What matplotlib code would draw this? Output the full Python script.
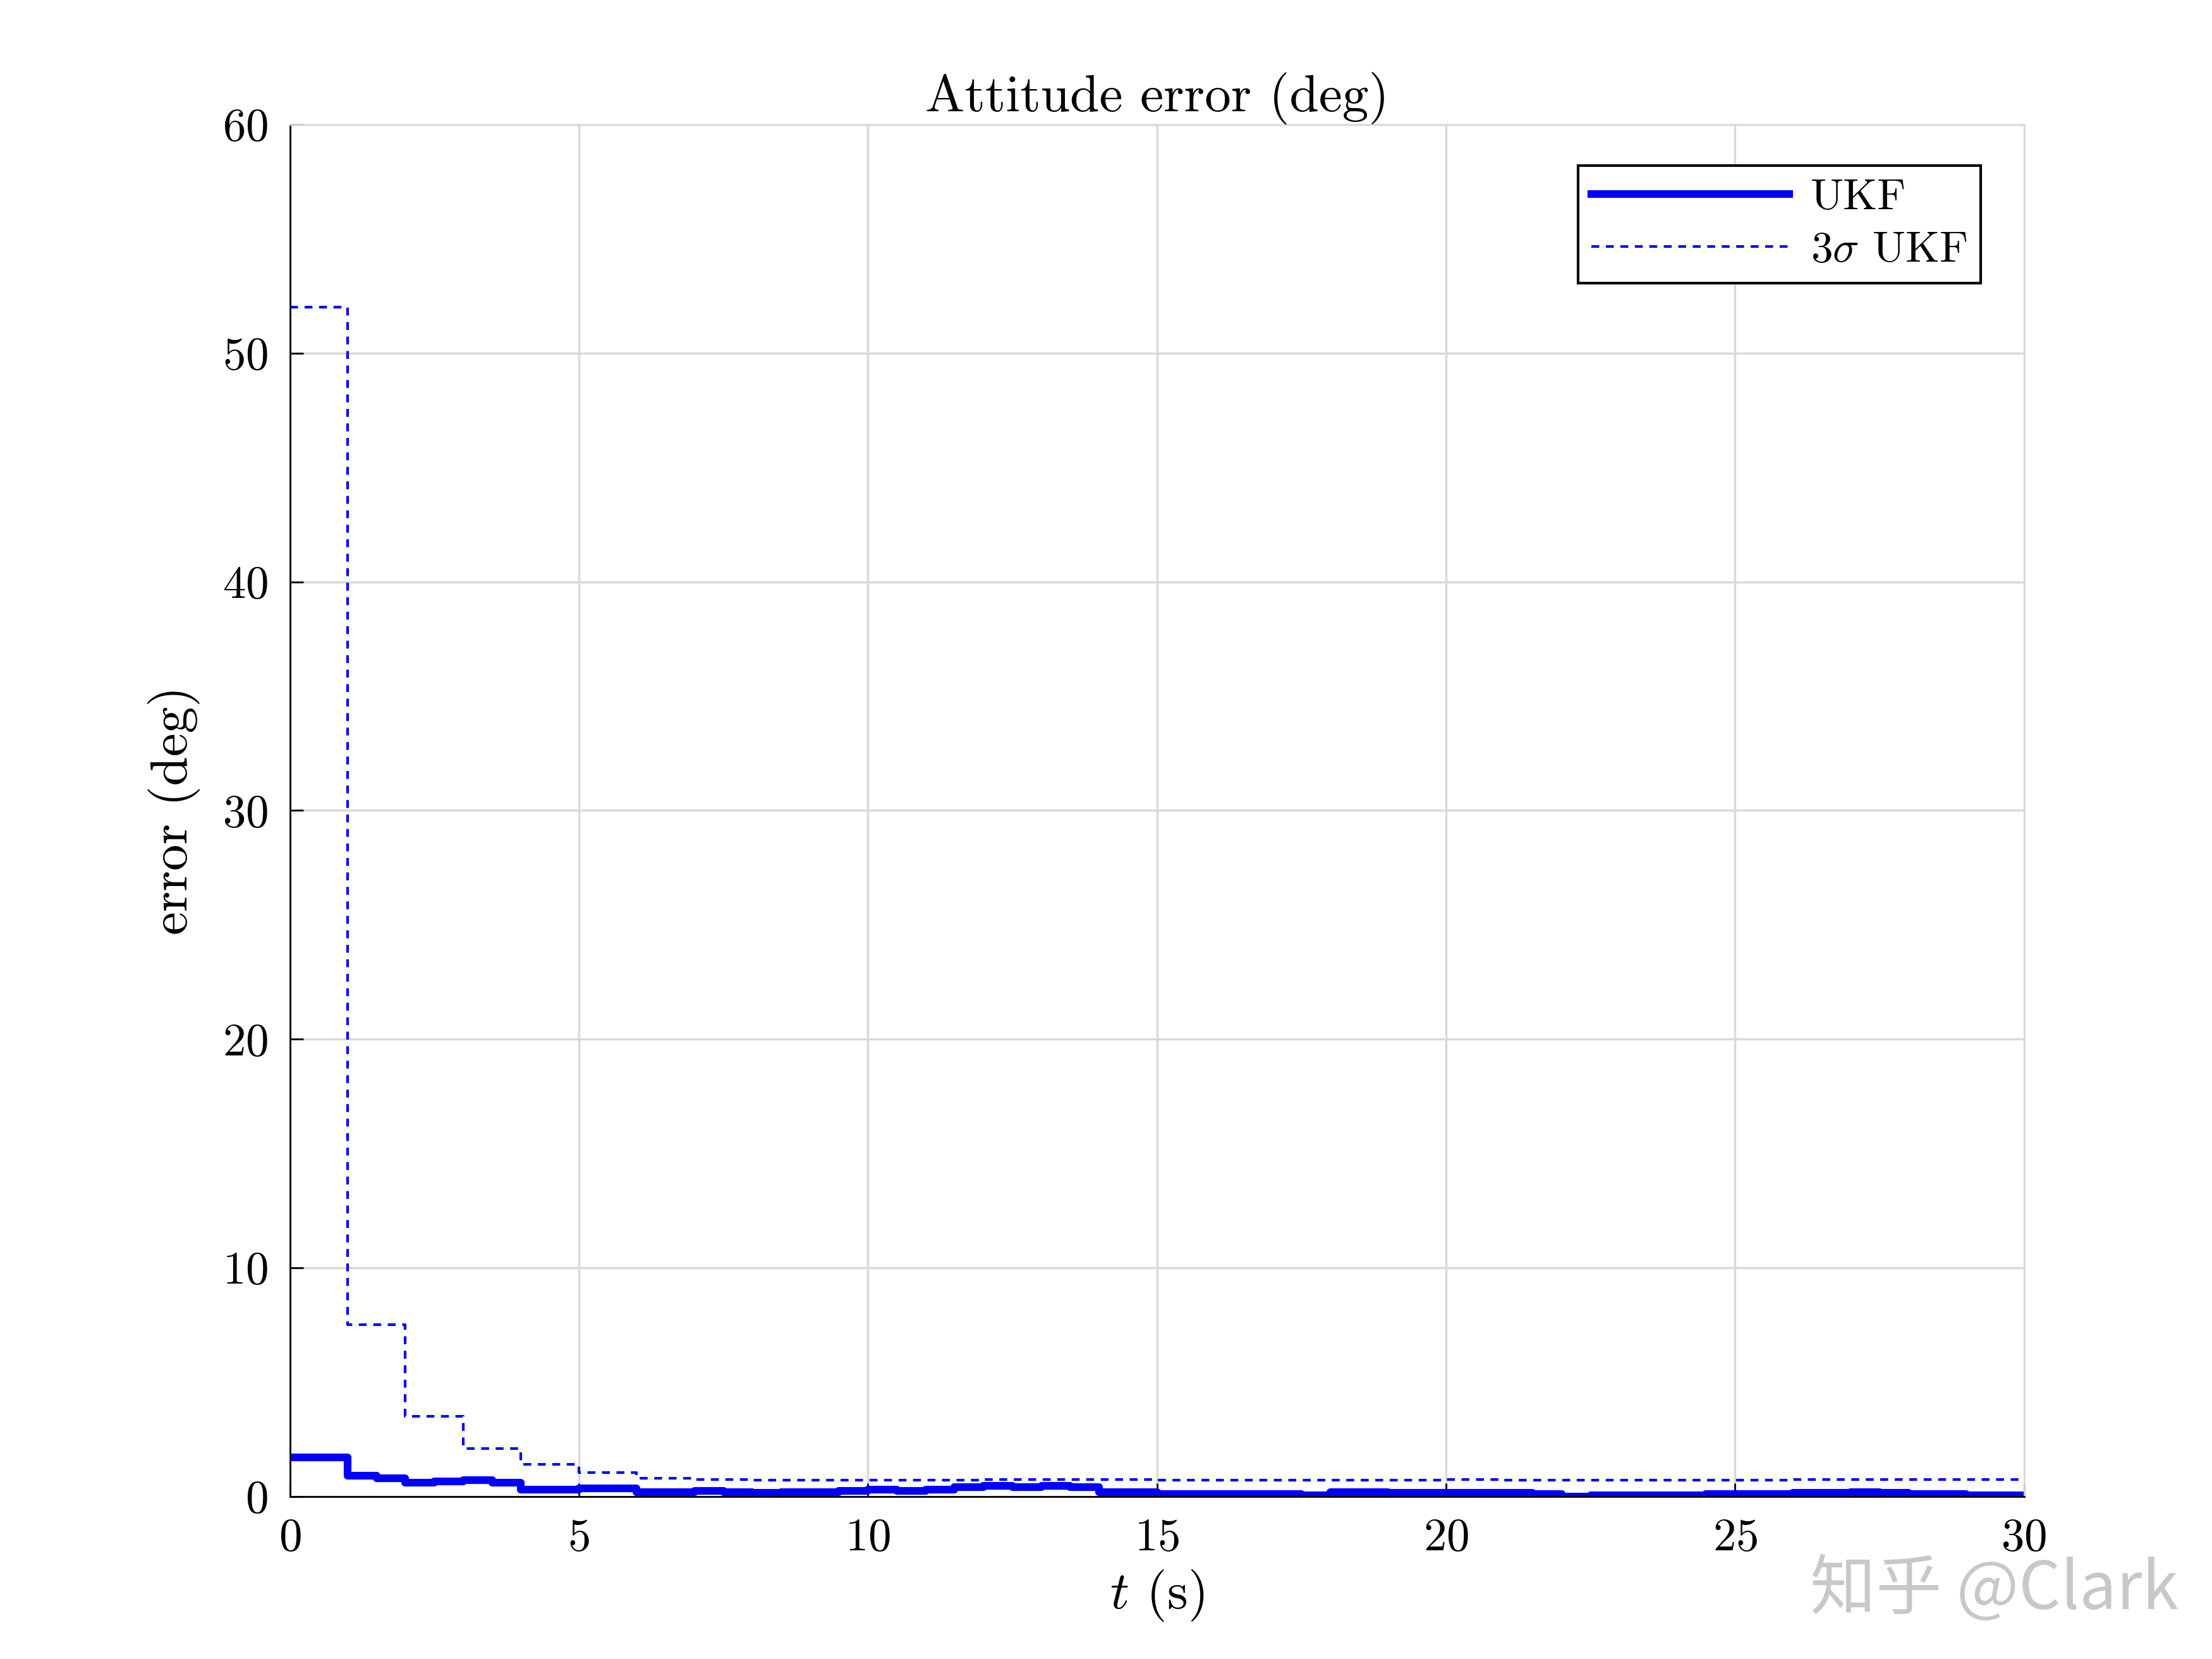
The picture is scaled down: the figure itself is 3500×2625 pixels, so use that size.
import matplotlib.pyplot as plt
import numpy as np

# tiempos (s) de cada escalón, cada 0.5 s
t = np.arange(0, 30.5, 0.5)
ukf = [1.7, 1.7, 0.9, 0.8, 0.6, 0.65, 0.7, 0.6, 0.3, 0.3, 0.35, 0.35,
       0.2, 0.2, 0.25, 0.2, 0.15, 0.2, 0.2, 0.25, 0.3, 0.25, 0.3, 0.4,
       0.45, 0.4, 0.45, 0.4, 0.2, 0.2, 0.1, 0.1, 0.1, 0.1, 0.1, 0.05,
       0.2, 0.2, 0.15, 0.15, 0.15, 0.15, 0.15, 0.1, 0.0, 0.05, 0.05, 0.05,
       0.05, 0.1, 0.1, 0.1, 0.15, 0.15, 0.2, 0.15, 0.1, 0.1, 0.05, 0.05, 0.05]
sigma3 = [52.0, 52.0, 7.5, 7.5, 3.5, 3.5, 2.1, 2.1, 1.4, 1.4, 1.05, 1.05,
          0.8, 0.8, 0.75, 0.75, 0.7, 0.7, 0.7, 0.7, 0.7, 0.7, 0.7, 0.7,
          0.75, 0.75, 0.75, 0.75, 0.75, 0.75, 0.7, 0.7, 0.7, 0.7, 0.7, 0.7,
          0.7, 0.7, 0.7, 0.7, 0.75, 0.75, 0.7, 0.7, 0.7, 0.7, 0.7, 0.7,
          0.7, 0.7, 0.7, 0.7, 0.75, 0.75, 0.75, 0.75, 0.75, 0.75, 0.75, 0.75, 0.75]

plt.rcParams['font.family'] = 'serif'
plt.rcParams['font.serif'] = ['cmr10']
plt.rcParams['mathtext.fontset'] = 'cm'
plt.rcParams['axes.formatter.use_mathtext'] = True

fig = plt.figure(figsize=(14, 10.5), dpi=250)
ax = fig.add_axes([0.131, 0.098, 0.784, 0.827])

ax.plot(t, ukf, color='#0000ff', lw=3.5, drawstyle='steps-post', label='UKF')
ax.plot(t, sigma3, color='#0000ff', lw=1.2, ls=(0, (3, 2.5)),
        drawstyle='steps-post', label=r'$3\sigma$ UKF')

ax.set_xlim(0, 30)
ax.set_ylim(0, 60)
ax.set_xticks(range(0, 31, 5))
ax.set_yticks(range(0, 61, 10))
ax.grid(True, color='#d9d9d9', lw=1)
ax.tick_params(labelsize=21, direction='in', length=6, pad=10)
for s in ['top', 'right']:
    ax.spines[s].set_color('#d9d9d9')
ax.set_title('Attitude error (deg)', fontsize=24, pad=6)
ax.set_xlabel(r'$t$ (s)', fontsize=24, labelpad=4)
ax.set_ylabel('error (deg)', fontsize=24, labelpad=10)

leg = ax.legend(loc='upper right', fontsize=20, fancybox=False,
                edgecolor='black', framealpha=1, handlelength=4.5,
                borderpad=0.3, labelspacing=0.3, handletextpad=0.5,
                borderaxespad=0, bbox_to_anchor=(0.975, 0.97))
leg.get_frame().set_linewidth(1.2)

fig.text(0.985, 0.03, '知乎 @Clark', fontsize=30, color='#c8c8c8', ha='right',
         family=['Noto Sans CJK SC', 'DejaVu Sans'])

fig.savefig('out.png')
